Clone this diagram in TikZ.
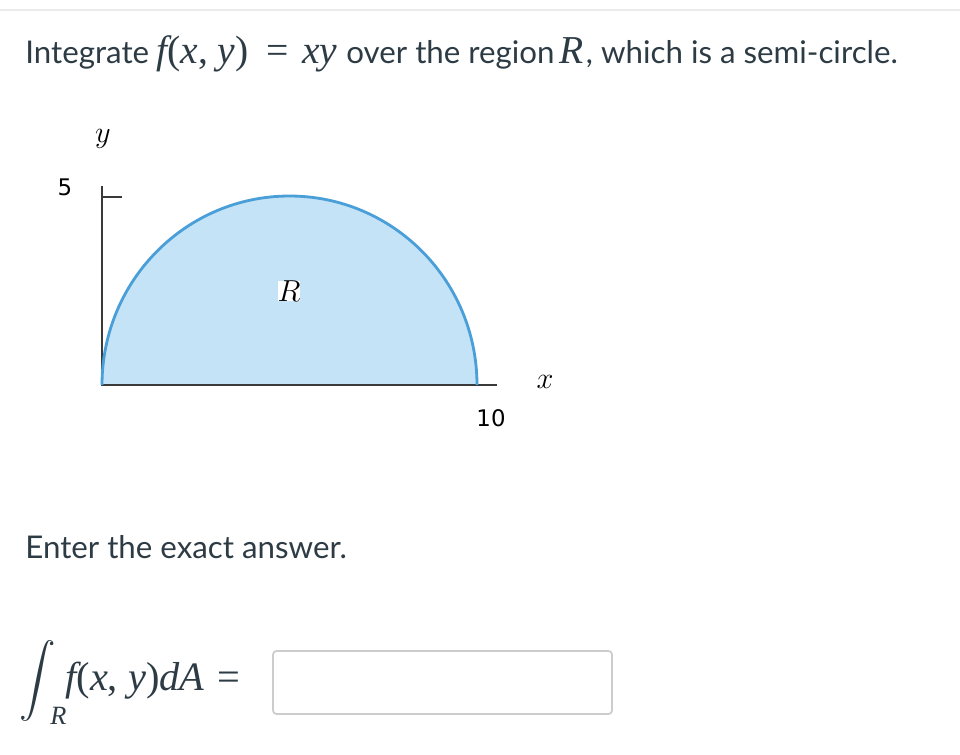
\documentclass[tikz,border=0pt]{standalone}
\usepackage{amsmath}
\usepackage{fontspec}
\setmainfont{Lato}
\newfontfamily\tms{Liberation Serif}
\newfontfamily\dvs{DejaVu Sans}
\usetikzlibrary{positioning}

\definecolor{canvastext}{HTML}{2D3B45}
\definecolor{regionfill}{HTML}{C4E3F6}
\definecolor{regionline}{HTML}{4A9FD8}
\definecolor{axisgray}{HTML}{3A3A3A}

\newcommand{\ti}[1]{{\itshape #1}}

\begin{document}
\begin{tikzpicture}[x=0.02cm,y=-0.02cm,
    prose/.style={anchor=base west,inner sep=0pt,text=canvastext,font=\fontsize{17.8}{21}\selectfont},
    formula/.style={anchor=base west,inner sep=0pt,text=canvastext,font=\tms\fontsize{22.5}{26}\selectfont},
    ticklabel/.style={inner sep=0pt,font=\dvs\fontsize{13}{15}\selectfont},
    axislabel/.style={inner sep=0pt,font=\fontsize{17}{20}\selectfont},
    axis/.style={draw=axisgray,line width=1.1pt},
    answerbox/.style={draw=black!20,line width=1pt,rounded corners=2pt}]
    \useasboundingbox (0,0) rectangle (960,754);
    \draw[black!8,line width=1pt] (0,10) -- (960,10);

    % question
    \node[prose] (integrate) at (25,63) {Integrate};
    \node[formula] (fxy) at (156,63) {\ti{f}(\ti{x}, \ti{y})};
    \node[formula] (equals) at (266,63) {=};
    \node[formula] (xy) at (302,63) {\ti{xy}};
    \node[prose] (overregion) at (346,63) {over the region};
    \node[formula] (regionname) at (559,63) {\ti{R}};
    \node[prose] (semicircle) at ([xshift=1pt]regionname.base east) {, which is a semi-circle.};

    % region
    \coordinate (origin) at (102,385);
    \coordinate (ytop) at (102,186);
    \coordinate (xend) at (497,385);
    \coordinate (ytick) at (122,197);
    \fill[regionfill] (origin) arc[start angle=180,end angle=0,x radius=187.5,y radius=-189] -- cycle;
    \draw[axis] (ytop) -- (origin) -- (xend);
    \draw[axis] (ytop |- ytick) -- (ytick);
    \draw[regionline,line width=1.6pt] (origin) arc[start angle=180,end angle=0,x radius=187.5,y radius=-189];
    \node[fill=white,inner sep=1.5pt,axislabel] (rlabel) at (289,291) {$R$};
    \node[axislabel] (ylabel) at (103,139) {$y$};
    \node[axislabel] (xlabel) at (545,382) {$x$};
    \node[ticklabel] (five) at (65,187) {5};
    \node[ticklabel] (ten) at (491,418) {10};

    % answer
    \node[prose] (enter) at (25,558) {Enter the exact answer.};
    \node[inner sep=0pt,text=canvastext,font=\fontsize{21}{24}\selectfont] (intsign) at (38,681) {$\displaystyle\int$};
    \node[formula,font=\tms\fontsize{15}{17}\selectfont] (intdomain) at (50,724) {\ti{R}};
    \node[formula,font=\tms\fontsize{23}{27}\selectfont] (integrand) at (65,690) {\ti{f}(\ti{x}, \ti{y})\ti{dA}};
    \node[formula,font=\tms\fontsize{23}{27}\selectfont] (answereq) at (217,690) {=};
    \draw[answerbox] (273,651) rectangle (612,714);
\end{tikzpicture}
\end{document}
